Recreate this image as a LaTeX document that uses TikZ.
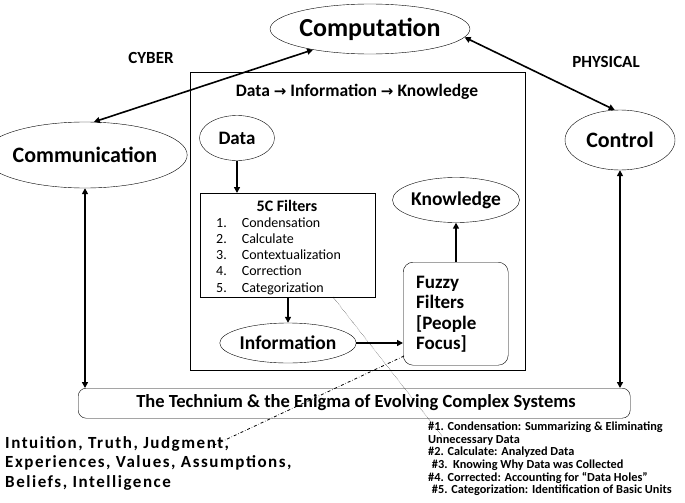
\documentclass[tikz,border=0pt]{standalone}
\usepackage{fontspec}
\setmainfont{Carlito}
\usetikzlibrary{shapes.geometric,arrows.meta}
\newcommand{\fs}[2]{\fontsize{#1}{#2}\selectfont}
\begin{document}
\begin{tikzpicture}[x=1pt,y=-1pt,
  ell/.style={draw,ellipse,inner sep=0pt,font=\bfseries},
  arr/.style={line width=1.6pt,-{Triangle[length=6pt,width=6pt]}},
  darr/.style={line width=1.6pt,{Triangle[length=6pt,width=6pt]}-{Triangle[length=6pt,width=6pt]}}]
\useasboundingbox (0,0) rectangle (685,503);
\node[ell,minimum width=150,minimum height=50,font=\bfseries\fs{26}{28}] (comp) at (370,29) {Computation};
\node[ell,minimum width=170,minimum height=66,font=\bfseries\fs{22}{24}] (comm) at (85,155) {Communication};
\node[ell,minimum width=110,minimum height=60,font=\bfseries\fs{22}{24}] (ctrl) at (620,140) {Control};
\node[font=\bfseries\fs{17}{19}] (cy) at (151,58) {CYBER};
\node[font=\bfseries\fs{17}{19}] (ph) at (606,62) {PHYSICAL};
\draw[darr] (comp.200) -- (comm.75);
\draw[darr] (comp.-5) -- (ctrl.100);
\node[draw,minimum width=335,minimum height=298,anchor=north west] (big) at (190,72) {};
\node[font=\bfseries\fs{17.5}{19}] (title) at (357,92) {Data {\fontspec{DejaVu Sans}\bfseries\fs{15}{17}→} Information {\fontspec{DejaVu Sans}\bfseries\fs{15}{17}→} Knowledge};
\node[ell,minimum width=75,minimum height=45,font=\bfseries\fs{19}{21}] (data) at (237,138) {Data};
\node[draw,minimum width=175,minimum height=104,anchor=north west] (fc) at (200,193) {};
\node[font=\bfseries\fs{16}{18}] (fct) at (287,206) {5C Filters};
\node[anchor=west,font=\fs{14}{16.3},align=left,inner sep=0] (list) at (216,256)
 {1.\hspace{15pt}Condensation\\2.\hspace{15pt}Calculate\\3.\hspace{15pt}Contextualization\\4.\hspace{15pt}Correction\\5.\hspace{15pt}Categorization};
\node[ell,minimum width=110,minimum height=45,font=\bfseries\fs{19.5}{21}] (know) at (456,200) {Knowledge};
\node[draw,rounded corners=10pt,minimum width=105,minimum height=103,anchor=north west] (fz) at (403,262) {};
\node[anchor=west,align=left,font=\bfseries\fs{19}{20.5},inner sep=0] (fzt) at (416,314) {Fuzzy\\Filters\\{[}People\\Focus]};
\node[ell,minimum width=120,minimum height=40,font=\bfseries\fs{19.5}{21}] (info) at (288,343) {Information};
\node[draw,rounded corners=8pt,minimum width=552,minimum height=30,anchor=north west] (tech) at (78,388) {};
\node[font=\bfseries\fs{18.5}{20}] (techt) at (356,403) {The Technium \& the Enigma of Evolving Complex Systems};
\draw[arr] (data) -- (fc.north -| data);
\draw[arr] (fc.south -| info) -- (info);
\draw[arr] (info) -- (fz.west |- info);
\draw[arr] (fz.north -| know) -- (know);
\draw[darr] (comm.south) -- (comm.south |- tech.north);
\draw[darr] (ctrl.south) -- (ctrl.south |- tech.north);
\coordinate (d1) at (333,297); \coordinate (d2) at (442,436);
\draw[densely dotted] (d1) -- (d2);
\coordinate (e1) at (404,356); \coordinate (e2) at (208,448);
\draw[dash dot,thick] (e1) -- (e2);
\node[anchor=west,align=left,inner sep=0,font=\bfseries\fs{17}{19.5}\addfontfeature{LetterSpace=9}] (left) at (5,463) {Intuition, Truth, Judgment,\\Experiences, Values, Assumptions,\\Beliefs, Intelligence};
\node[anchor=west,align=left,inner sep=0,font=\bfseries\fs{12.3}{12.6}] (notes) at (428,459) {\#1. Condensation: Summarizing \& Eliminating\\Unnecessary Data\\\#2. Calculate: Analyzed Data\\\hspace{1pt} \#3.\ \ Knowing Why Data was Collected\\\#4. Corrected: Accounting for “Data Holes”\\\hspace{1pt} \#5. Categorization: Identification of Basic Units};
\end{tikzpicture}
\end{document}
